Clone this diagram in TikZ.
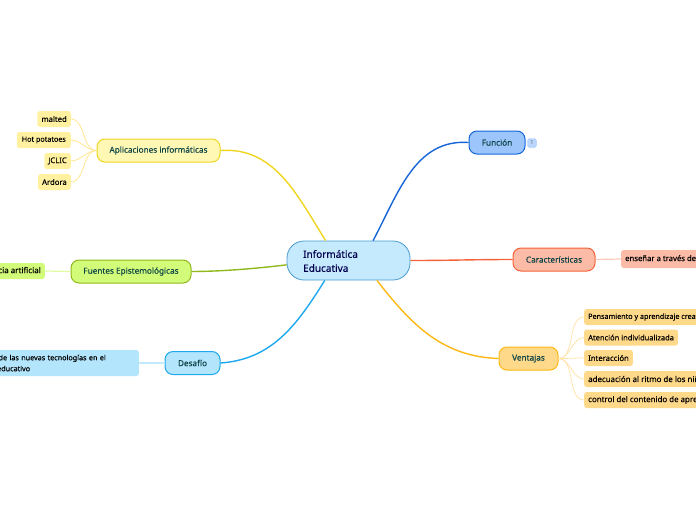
\documentclass[tikz,border=0pt]{standalone}
\usepackage[HTML]{xcolor}
\usepackage{fontspec}
\setmainfont{Noto Sans}
\newfontfamily\medfont[FakeBold=0.25]{Noto Sans}
\usetikzlibrary{positioning}
\definecolor{apliFill}{HTML}{FFF8B5}
\definecolor{apliLine}{HTML}{F0D520}
\definecolor{apliLeaf}{HTML}{FFF1A0}
\definecolor{fuenFill}{HTML}{D2FB7A}
\definecolor{fuenLine}{HTML}{90B81C}
\definecolor{desaFill}{HTML}{B3E5FC}
\definecolor{desaLine}{HTML}{1EA8EE}
\definecolor{ventFill}{HTML}{FFD98A}
\definecolor{ventLine}{HTML}{FDB813}
\definecolor{cararFill}{HTML}{FBBBA6}
\definecolor{cararLine}{HTML}{F4633A}
\definecolor{funcFill}{HTML}{9CC5FB}
\definecolor{funcLine}{HTML}{1565D8}
\definecolor{centFill}{HTML}{C5E9FD}
\definecolor{centLine}{HTML}{4A9BD0}
\definecolor{branchText}{HTML}{0B4345}
\tikzset{
  branchbox/.style={draw, line width=1pt, rounded corners=8pt, minimum height=23pt, inner sep=0pt, text=branchText, font=\medfont\fontsize{8.2}{10}\selectfont},
  leafbox/.style={rounded corners=2.5pt, minimum height=16pt, inner xsep=4pt, inner ysep=0pt, text=black, font=\medfont\fontsize{7.7}{10}\selectfont},
}
\begin{document}
\begin{tikzpicture}[x=1pt,y=-1pt]
\useasboundingbox (0,0) rectangle (696,520);
\clip (0,0) rectangle (696,520);
% main topic
\node[draw=centLine, fill=centFill, line width=0.8pt, rounded corners=17pt, minimum width=123pt, minimum height=39pt, inner sep=0pt] (central) at (348.5,260.5) {};
\node[anchor=west, align=left, inner sep=0pt, text=blue!30!black, font=\medfont\fontsize{10}{14}\selectfont] (centraltxt) at (303,261) {Informática\\Educativa};
% branches
\node[branchbox, draw=apliLine, fill=apliFill, minimum width=123pt] (apli) at (158.5,150.5) {Aplicaciones informáticas};
\node[branchbox, draw=fuenLine, fill=fuenFill, minimum width=120pt] (fuen) at (131,271.5) {Fuentes Epistemológicas};
\node[branchbox, draw=desaLine, fill=desaFill, minimum width=55pt] (desa) at (192.5,363) {Desafío};
\node[branchbox, draw=funcLine, fill=funcFill, minimum width=56pt] (func) at (497,142.5) {Función};
\node[branchbox, draw=cararLine, fill=cararFill, minimum width=82pt] (carar) at (554,259.5) {Características};
\node[branchbox, draw=ventLine, fill=ventFill, minimum width=59pt] (vent) at (528.5,358.5) {Ventajas};
\node[draw=funcFill, fill=funcFill!70, rounded corners=2.5pt, minimum width=9pt, minimum height=9pt, inner sep=0pt, text=black!60, font=\fontsize{5.5}{6}\selectfont] (nota) at (532,143) {1};
% leaves
\node[leafbox, fill=apliLeaf, anchor=east] (malted) at (71,119) {malted};
\node[leafbox, fill=apliLeaf, anchor=east, inner xsep=0pt, minimum width=54pt, font=\medfont\fontsize{7.2}{10}\selectfont] (hot) at (71,140) {Hot potatoes};
\node[leafbox, fill=apliLeaf, anchor=east] (jclic) at (71,161) {JCLIC};
\node[leafbox, fill=apliLeaf, anchor=east] (ardora) at (71,182) {Ardora};
\node[leafbox, fill=fuenFill, anchor=east, font=\medfont\fontsize{8}{10}\selectfont] (ia) at (45,271) {Inteligencia artificial};
\node[leafbox, fill=desaFill, anchor=east, minimum height=26pt, text width=164pt, align=left, font=\medfont\fontsize{7.2}{11}\selectfont] (uso) at (139,363) {Empleo de las nuevas tecnologías en el\\ámbito educativo};
\node[leafbox, fill=cararFill, anchor=west, minimum height=18pt] (ense) at (621,259) {enseñar a través de la tecnología};
\node[leafbox, fill=ventFill, anchor=west, font=\medfont\fontsize{7.2}{10}\selectfont] (pens) at (584,317) {Pensamiento y aprendizaje creativo};
\node[leafbox, fill=ventFill, anchor=west, font=\medfont\fontsize{7.5}{10}\selectfont] (aten) at (584,337.5) {Atención individualizada};
\node[leafbox, fill=ventFill, anchor=west] (inte) at (584,358) {Interacción};
\node[leafbox, fill=ventFill, anchor=west, font=\medfont\fontsize{7.9}{10}\selectfont] (adec) at (584,379) {adecuación al ritmo de los niños};
\node[leafbox, fill=ventFill, anchor=west, font=\medfont\fontsize{7.9}{10}\selectfont] (cont) at (584,400) {control del contenido de aprendizaje};
% main connectors
\draw[apliLine, line width=1.4pt] (central.139) to[out=122,in=4,looseness=1] (apli.east);
\draw[fuenLine, line width=1.4pt] (central.184) to[out=187,in=0,looseness=0.8] (fuen.east);
\draw[desaLine, line width=1.4pt] (central.220) to[out=238,in=4,looseness=1] (desa.east);
\draw[funcLine, line width=1.4pt] (central.39) to[out=62,in=176,looseness=1] (func.west);
\draw[cararLine, line width=1.4pt] (central.east) to[out=0,in=180] (carar.west);
\draw[ventLine, line width=1.4pt] (central.-35) to[out=-52,in=178,looseness=1] (vent.west);
% leaf connectors
\foreach \leaf in {malted,hot,jclic,ardora}
  \draw[apliLeaf!90!orange, line width=0.8pt] (apli.west) to[out=180,in=0,looseness=0.9] (\leaf.east);
\foreach \leaf in {pens,aten,inte,adec,cont}
  \draw[ventFill!70, line width=0.8pt] (vent.east) to[out=0,in=180,looseness=0.9] (\leaf.west);
\draw[fuenFill!70, line width=1.2pt] (fuen.west) -- (ia.east);
\draw[desaFill!80, line width=1.2pt] (desa.west) -- (uso.east);
\draw[cararFill!80, line width=1.2pt] (carar.east) -- (ense.west);
\end{tikzpicture}
\end{document}
